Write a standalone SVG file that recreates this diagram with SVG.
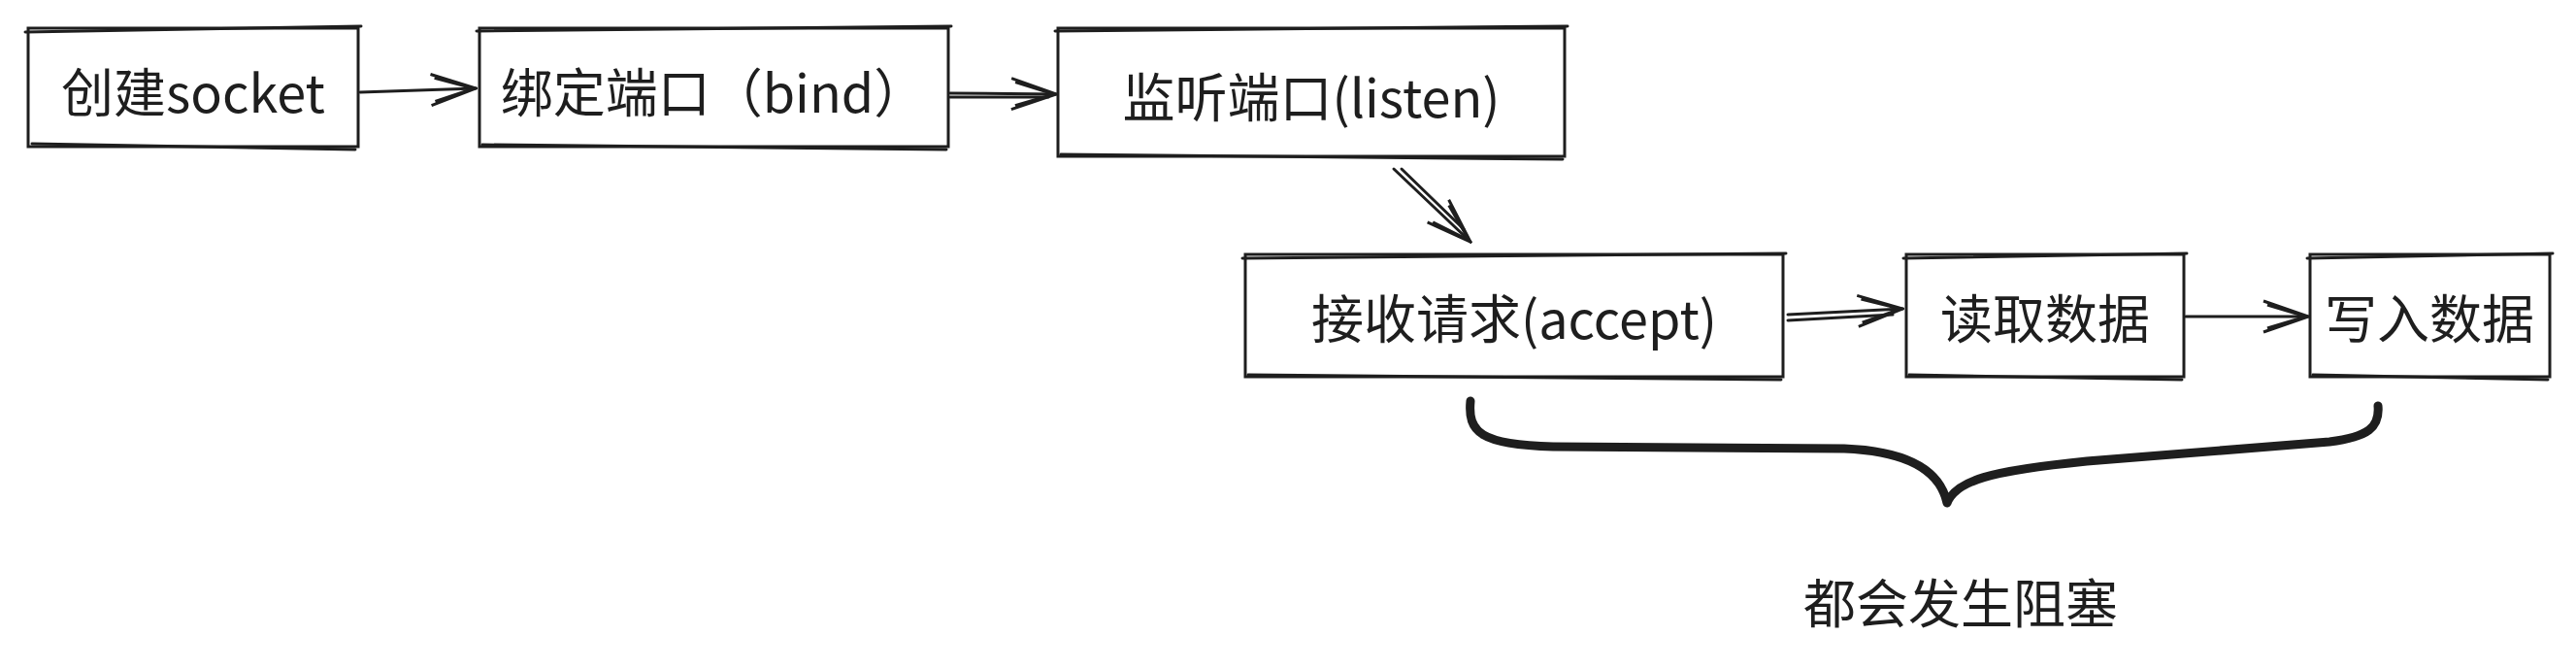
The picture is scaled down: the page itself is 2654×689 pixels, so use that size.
<svg xmlns="http://www.w3.org/2000/svg" width="2654" height="689" viewBox="0 0 2654 689">
<defs>
<style>
.b{fill:none;stroke:#1e1e1e;stroke-width:3;stroke-linecap:round}
.t{font-family:"Noto Sans CJK SC","Liberation Sans",sans-serif;font-size:54px;fill:#1e1e1e;text-anchor:middle;dominant-baseline:central}
.c{fill:none;stroke:#1e1e1e;stroke-width:3;stroke-linecap:round;stroke-linejoin:round}
</style>
<marker id="a" markerWidth="50" markerHeight="40" refX="48" refY="20" orient="auto" markerUnits="userSpaceOnUse">
<path d="M2 4 L48 20 L2 36 M6 8 L46 20 L6 32" fill="none" stroke="#1e1e1e" stroke-width="3"/>
</marker>
</defs>
<rect width="2654" height="689" fill="#fff"/>
<g id="n1"><rect class="b" x="29" y="29" width="340" height="122"/><path class="b" d="M26 33 L372 27 M33 148 L366 154"/><text class="t" x="199" y="92">创建socket</text></g>
<g id="n2"><rect class="b" x="494" y="29" width="483" height="122"/><path class="b" d="M491 32 L980 27 M497 149 L975 154"/><text class="t" x="735" y="92">绑定端口（bind）</text></g>
<g id="n3"><rect class="b" x="1090" y="29" width="522" height="132"/><path class="b" d="M1087 32 L1615 27 M1093 159 L1610 164"/><text class="t" x="1351" y="97">监听端口(listen)</text></g>
<g id="n4"><rect class="b" x="1283" y="262" width="554" height="126"/><path class="b" d="M1280 266 L1840 261 M1286 386 L1835 391"/><text class="t" x="1560" y="325">接收请求(accept)</text></g>
<g id="n5"><rect class="b" x="1964" y="262" width="286" height="126"/><path class="b" d="M1961 266 L2253 261 M1967 386 L2248 391"/><text class="t" x="2107" y="325">读取数据</text></g>
<g id="n6"><rect class="b" x="2380" y="262" width="247" height="126"/><path class="b" d="M2377 266 L2630 261 M2383 386 L2625 391"/><text class="t" x="2503" y="325">写入数据</text></g>
<g id="edges">
<path class="c" d="M371 95 L490 91" marker-end="url(#a)"/>
<path class="c" d="M979 96 L1088 97" marker-end="url(#a)"/><path class="c" d="M979 100 L1080 100"/>
<path class="c" d="M1436 174 L1515 249" marker-end="url(#a)"/><path class="c" d="M1444 174 L1508 236"/>
<path class="c" d="M1842 324 L1960 318" marker-end="url(#a)"/><path class="c" d="M1842 330 L1950 324"/>
<path class="c" d="M2252 326 L2378 326" marker-end="url(#a)"/>
</g>
<g id="brace"><path class="c" style="stroke-width:9" d="M1515 413 C1512 445 1525 458 1600 460 L1900 462 C1975 465 2000 490 2006 518 C2015 495 2050 485 2150 475 L2400 455 C2440 450 2452 440 2450 418"/></g>
<text class="t" x="2020" y="618">都会发生阻塞</text>
</svg>
